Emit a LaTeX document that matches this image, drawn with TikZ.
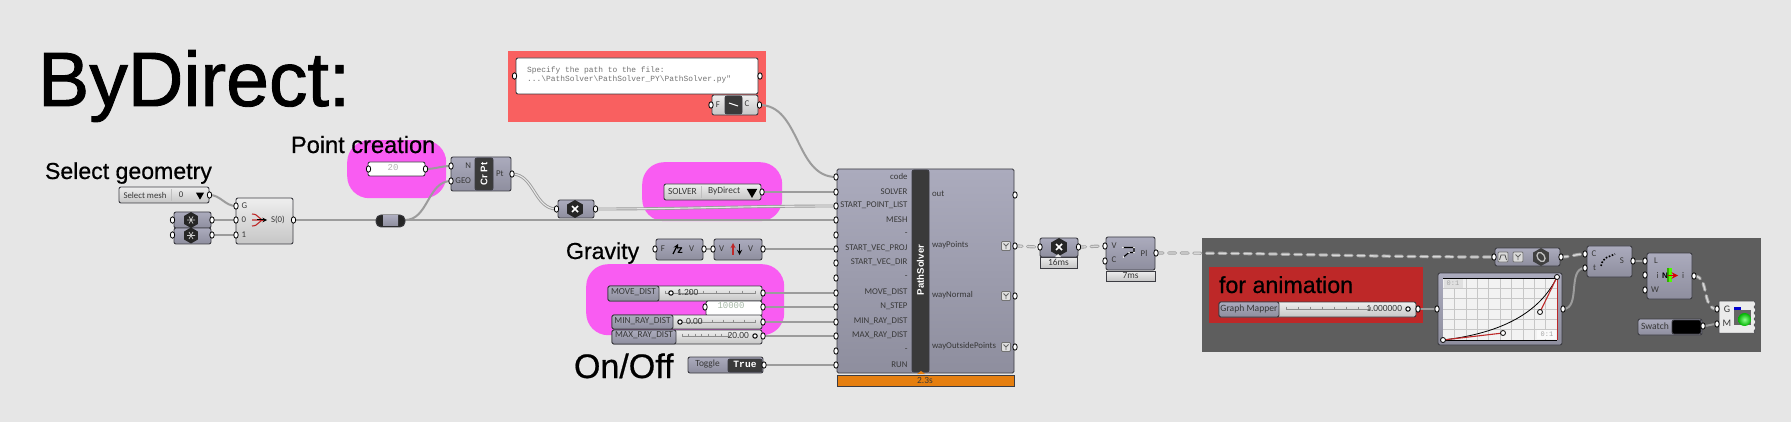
\documentclass[tikz,border=0pt]{standalone}
\usepackage{fontspec}
\setmainfont{Liberation Sans}
\newfontfamily\gh{Carlito}
\newfontfamily\mono{Liberation Mono}
\newfontfamily\heavy{Liberation Sans}[FakeBold=1.2]
\newfontfamily\semi{Liberation Sans}[FakeBold=0.6]
\usetikzlibrary{shapes.geometric,calc}
\definecolor{bg}{HTML}{E6E6E6}
\definecolor{pinkg}{HTML}{F95CF2}
\definecolor{redg}{HTML}{F96060}
\definecolor{crim}{HTML}{BE2828}
\definecolor{darkg}{HTML}{5E5E5E}
\definecolor{edge}{HTML}{3C3C42}
\definecolor{wirec}{HTML}{9C9C9C}
\definecolor{barc}{HTML}{3A3A3A}
\definecolor{orng}{HTML}{E57F10}
\definecolor{gtop}{HTML}{ABABBD}
\definecolor{gbot}{HTML}{8E8E9E}
\definecolor{ltop}{HTML}{EEEEEE}
\definecolor{lbot}{HTML}{C6C6C6}
\definecolor{dashin}{HTML}{D8D8D8}
\definecolor{dashout}{HTML}{A2A2A2}
\definecolor{greenval}{HTML}{A6B8A6}
\pgfdeclarelayer{grp}
\pgfdeclarelayer{wir}
\pgfsetlayers{grp,wir,main}
\tikzset{
  basebox/.style={draw=edge,line width=.9pt,rounded corners=2pt,inner sep=0pt,outer sep=0pt},
  greybox/.style={basebox,top color=gtop,bottom color=gbot},
  lightbox/.style={basebox,top color=ltop,bottom color=lbot},
  whitebox/.style={basebox,fill=white},
  darkbox/.style={basebox,fill=barc},
  grpblob/.style={draw=none,fill=pinkg,rounded corners=22pt,inner sep=0pt},
  grprect/.style={draw=none,inner sep=0pt},
  port/.style={ellipse,draw=black,line width=.8pt,fill=white,minimum width=4.4pt,minimum height=6.4pt,inner sep=0pt,outer sep=0pt},
  wire/.style={draw=wirec,line width=2pt},
  wired/.style={draw=wirec,line width=.9pt,double=bg,double distance=1.1pt},
  wiredash/.style={draw=dashout,line width=3.2pt,line cap=round,dash pattern=on 7pt off 5.6pt,postaction={draw=dashin,line width=1.3pt,dash pattern=on 7pt off 5.6pt}},
  big/.style={inner sep=0pt,outer sep=0pt,text=black},
  small/.style={inner sep=0pt,outer sep=0pt,text=black!78,font=\gh\fontsize{8.8}{10}\selectfont},
  val/.style={small,font=\gh\fontsize{9.4}{10}\selectfont},
  barlab/.style={inner sep=0pt,text=white,rotate=90,font=\bfseries\fontsize{9.6}{10}\selectfont},
  hex/.style={regular polygon,regular polygon sides=6,shape border rotate=30,fill=black!85,draw=none,minimum size=18pt,inner sep=0pt},
  dot/.style={circle,draw=black,line width=1pt,fill=white,minimum size=4.4pt,inner sep=0pt},
  hdl/.style={circle,draw=black,line width=.8pt,fill=white,minimum size=5pt,inner sep=0pt},
  ybox/.style={draw=black!55,line width=.8pt,rounded corners=1pt,fill=black!12,minimum size=9pt,inner sep=0pt},
}
\newcommand\gbox[6]{\pgfmathsetmacro\bw{#5-#3}\pgfmathsetmacro\bh{#6-#4}%
  \node[#1,anchor=north west,minimum width=\bw pt,minimum height=\bh pt] (#2) at (#3,#4) {};}
\newcommand\gport[2]{\node[port] (#1) at (#2) {};}
\newcommand\gticks[3]{\draw[black!45,line width=.5pt] (#1,#3) -- (#2,#3);
  \pgfmathsetmacro\tst{(#2-#1)/7}\foreach \k in {0,...,7}{\draw[black!45,line width=.5pt] ({#1+\k*\tst},#3-2.5) -- ({#1+\k*\tst},#3+.5);}}
\newcommand\xmark[1]{\draw[white,line width=1.7pt] ($(#1)+(-3,-3)$) -- ($(#1)+(3,3)$) ($(#1)+(-3,3)$) -- ($(#1)+(3,-3)$);}
\newcommand\flake[1]{\draw[black!20,line width=.7pt] ($(#1)+(-4,0)$) -- ($(#1)+(4,0)$) ($(#1)+(-2,-3.5)$) -- ($(#1)+(2,3.5)$) ($(#1)+(-2,3.5)$) -- ($(#1)+(2,-3.5)$);}
\begin{document}
\begin{tikzpicture}[x=1pt,y=-1pt]
\useasboundingbox (0,0) rectangle (1791,422);
% groups
\begin{pgfonlayer}{grp}
\fill[bg] (0,0) rectangle (1791,422);
\gbox{grpblob}{gp1}{347}{140}{446}{198}
\gbox{grpblob}{gp2}{642}{162}{782}{221}
\gbox{grpblob}{gp3}{586}{264}{784}{335}
\gbox{grprect,fill=redg}{gr1}{508}{51}{766}{122}
\gbox{grprect,fill=darkg}{gd1}{1202}{238}{1761}{352}
\gbox{grprect,fill=crim}{gr2}{1209}{267}{1423}{323}
\end{pgfonlayer}
% free text
\node[big,anchor=base west,font=\heavy\fontsize{77}{90}\selectfont] (ttl) at (38,106) {ByDirect:};
\node[big,anchor=base west,font=\semi\fontsize{23.6}{26}\selectfont] (tpc) at (291,153) {Point creation};
\node[big,anchor=base west,font=\semi\fontsize{23.1}{26}\selectfont] (tsg) at (45,179) {Select geometry};
\node[big,anchor=base west,font=\semi\fontsize{23.1}{26}\selectfont] (tgr) at (566,259) {Gravity};
\node[big,anchor=base west,font=\semi\fontsize{34}{38}\selectfont] (tof) at (574,378) {On/Off};
\node[big,anchor=base west,font=\semi\fontsize{23.2}{26}\selectfont] (tfa) at (1219,293) {for animation};
% select mesh
\gbox{lightbox}{sm}{119}{187}{209}{203}
\draw[black!25] (171,189) -- (171,201);
\node[small,anchor=west] (smt) at (123.5,195) {Select mesh};
\node[small,anchor=center] (smv) at (181,195) {0};
\node[isosceles triangle,isosceles triangle apex angle=60,shape border rotate=-90,fill=black,inner sep=0pt,minimum size=7pt] (smd) at (200,195) {};
\gport{smo}{209.5,195}
% hex params
\gbox{greybox}{h1}{174}{212}{211}{228}
\gbox{greybox}{h2}{174}{228}{211}{244}
\node[hex,minimum size=16pt] (hx1) at (191,220) {};
\node[hex,minimum size=16pt] (hx2) at (191,235.5) {};
\flake{hx1}\flake{hx2}
\gport{h1i}{172.5,220}\gport{h1o}{212,220}
\gport{h2i}{172.5,235}\gport{h2o}{212,235}
% S component
\gbox{lightbox}{sc}{236}{198}{293}{244}
\gport{scg}{236,206}\gport{sc0}{236,220}\gport{sc1}{236,235}\gport{sco}{293.5,220}
\node[small,anchor=west] at (241.5,206) {G};
\node[small,anchor=west] at (241.5,220) {0};
\node[small,anchor=west] at (241.5,234.5) {1};
\node[small,anchor=west] at (271,220) {S(0)};
\draw[crim,line width=1.1pt] (252,214) .. controls (259,214) and (258,220) .. (265,220) (252,226) .. controls (259,226) and (258,220) .. (265,220) (252,220) -- (262,220);
\draw[black,line width=1pt,-stealth] (257,220) -- (267,220);
% relay
\gbox{basebox,fill=black!85,rounded corners=5pt}{rel}{376}{215}{405}{227}
\fill[top color=gtop,bottom color=gbot] (383,216) rectangle (398,226);
\coordinate (reli) at (376,220);\coordinate (relo) at (405,220);
% slider 20
\gbox{whitebox}{n20}{368}{162}{425}{176}
\node[anchor=center,inner sep=0pt,text=black!30,font=\mono\fontsize{9}{10}\selectfont] at (393,167.5) {20};
\gport{n20i}{368.5,169}\gport{n20o}{425.5,169}
% create points
\gbox{greybox}{cr}{451}{157}{511}{191}
\gbox{darkbox}{crb}{475}{158}{493}{190}
\node[barlab] at (484,174) {Cr Pt};
\node[small,anchor=east] at (471,165.5) {N};
\node[small,anchor=east] at (471,181) {GEO};
\node[small,anchor=west] at (496,174) {Pt};
\gport{crn}{451,166}\gport{crg}{451,181}\gport{cro}{512,174}
% cross param
\gbox{greybox}{cx}{558}{200}{594}{218}
\node[hex] (cxh) at (575,209) {};
\xmark{cxh}
\gport{cxi}{556.5,209}\gport{cxo}{595.5,209}
% panel
\gbox{whitebox}{pan}{516}{58}{758}{94}
\node[anchor=base west,inner sep=0pt,text=black!55,font=\mono\fontsize{7.9}{9}\selectfont] at (527,73) {Specify the path to the file:};
\node[anchor=base west,inner sep=0pt,text=black!55,font=\mono\fontsize{7.9}{9}\selectfont] at (527,82) {...\textbackslash PathSolver\textbackslash PathSolver\_PY\textbackslash PathSolver.py"};
\gport{pani}{514.5,76}\gport{pano}{760,76}
\gbox{lightbox}{fc}{712}{95}{758}{115}
\gbox{darkbox}{fcb}{725}{96}{742}{114}
\draw[white,line width=1pt] (729,103) -- (738,106);
\node[small,anchor=center] at (718,104.5) {F};
\node[small,anchor=center] at (747,104) {C};
\gport{fci}{711,105}\gport{fco}{759.5,105}
% solver value list
\gbox{lightbox}{sv}{664}{184}{761}{200}
\draw[black!25] (701,186) -- (701,198);
\node[small,anchor=west,font=\gh\fontsize{9.4}{10}\selectfont] at (668,191.5) {SOLVER};
\node[small,anchor=west,font=\gh\fontsize{9.4}{10}\selectfont] at (708,191.5) {ByDirect};
\node[isosceles triangle,isosceles triangle apex angle=60,shape border rotate=-90,fill=black,inner sep=0pt,minimum size=9pt] at (752,192) {};
\gport{svo}{762,192}
% gravity components
\gbox{greybox}{fv}{656}{239}{703}{260}
\node[small,anchor=center] at (663,248.5) {F};
\node[small,anchor=center] at (691.5,248.5) {V};
\node[inner sep=0pt,font=\bfseries\fontsize{11}{11}\selectfont] at (680,251) {z};
\draw[black,line width=1.2pt,-stealth] (673,254) -- (678,244);
\gport{fvi}{655,249}\gport{fvo}{704,249}
\gbox{greybox}{vv}{714}{239}{762}{260}
\node[small,anchor=center] at (721.5,248.5) {V};
\node[small,anchor=center] at (750.5,248.5) {V};
\draw[crim,line width=1.3pt,stealth-] (733,243) -- (733,255);
\draw[black,line width=1.3pt,-stealth] (739.5,244) -- (739.5,255);
\gport{vvi}{713,249}\gport{vvo}{763,249}
% sliders
\gbox{lightbox}{s1}{608}{286}{762}{301}
\gbox{greybox}{s1l}{608}{286}{659}{301}
\node[small,anchor=center,font=\gh\fontsize{9.2}{10}\selectfont] at (633.5,292.5) {MOVE\_DIST};
\gticks{665}{755}{293}
\node[dot] at (671,293) {};
\node[val,anchor=west,fill=none] at (677,292.5) {1.200};
\gport{s1o}{763,293}
\gbox{whitebox}{s2}{706}{301}{762}{316}
\node[anchor=center,inner sep=0pt,text=greenval,font=\mono\fontsize{9}{10}\selectfont] at (731,306) {10000};
\gport{s2i}{705,307}\gport{s2o}{763,307}
\gbox{lightbox}{s3}{612}{315}{762}{329}
\gbox{greybox}{s3l}{612}{315}{673}{329}
\node[small,anchor=center,font=\gh\fontsize{9.2}{10}\selectfont] at (642.5,321) {MIN\_RAY\_DIST};
\gticks{680}{755}{322}
\node[dot] at (680,322) {};
\node[val,anchor=west] at (686,321.5) {0.00};
\gport{s3o}{763,322}
\gbox{lightbox}{s4}{612}{330}{762}{344}
\gbox{greybox}{s4l}{612}{330}{676}{344}
\node[small,anchor=center,font=\gh\fontsize{9.2}{10}\selectfont] at (644,335.5) {MAX\_RAY\_DIST};
\gticks{682}{728}{336}
\node[dot] at (755,336) {};
\node[val,anchor=east] at (749,335.5) {20.00};
\gport{s4o}{763,336}
% toggle
\gbox{greybox}{tg}{688}{357}{763}{373}
\gbox{darkbox}{tgb}{728}{359}{762}{372}
\node[small,anchor=center,font=\gh\fontsize{9.4}{10}\selectfont] at (707.5,364.5) {Toggle};
\node[anchor=center,inner sep=0pt,text=white,font=\mono\bfseries\fontsize{9.6}{10}\selectfont] at (745,364.5) {True};
\gport{tgo}{764,365}
% PathSolver
\gbox{greybox,rounded corners=1.5pt}{ps}{837}{169}{1014}{373}
\gbox{basebox,draw=edge,fill=orng,rounded corners=0pt}{psb}{837}{375}{1014}{386}
\node[small,anchor=center,font=\gh\fontsize{9.4}{10}\selectfont] at (925,380.5) {2.3s};
\gbox{darkbox}{psd}{912}{170}{929}{372}
\node[barlab] at (920.5,270) {PathSolver};
\fill[orng] (921,371) -- (925,374) -- (917,374) -- cycle;
\foreach \nm/\yy/\tx in {a/177/code,b/192/SOLVER,c/206/START\_POINT\_LIST,d/220/MESH,e/235/-,f/249/START\_VEC\_PROJ,g/263/START\_VEC\_DIR,h/278/-,i/293/MOVE\_DIST,j/307/N\_STEP,k/322/MIN\_RAY\_DIST,l/336/MAX\_RAY\_DIST,m/351/-,n/365/RUN}{
  \node[port] (in\nm) at (836,\yy) {};
  \node[small,anchor=east] at (907.5,\yy-.5) {\tx};
}
\foreach \nm/\yy/\tx in {a/195/out,b/246/wayPoints,c/296/wayNormal,d/347/wayOutsidePoints}{
  \node[port] (ou\nm) at (1015,\yy) {};
  \node[small,anchor=west] at (932,\yy-1) {\tx};
}
\foreach \yy in {246,296,347}{
  \node[ybox] at (1006,\yy) {};
  \draw[black!60,line width=.8pt] (1003.5,\yy-2.5) -- (1006,\yy) -- (1008.5,\yy-2.5) (1006,\yy) -- (1006,\yy+3);
}
% cross 16ms
\gbox{greybox}{cy}{1040}{238}{1078}{257}
\node[hex] (cyh) at (1059,247) {};
\xmark{cyh}
\gbox{lightbox,rounded corners=0pt}{cyt}{1040}{257}{1077}{268}
\node[small,anchor=center,font=\gh\fontsize{9.4}{10}\selectfont] at (1058.5,262.5) {16ms};
\fill[bg!80!white] (1058,254) -- (1061,257) -- (1055,257) -- cycle;
\gport{cyi}{1040,247}\gport{cyo}{1078.5,247}
% polyline
\gbox{greybox}{pl}{1106}{237}{1155}{270}
\gbox{lightbox,rounded corners=0pt}{plt}{1106}{271}{1155}{281}
\node[small,anchor=center,font=\gh\fontsize{9.4}{10}\selectfont] at (1130.5,275.5) {7ms};
\node[small,anchor=center] at (1114,245.5) {V};
\node[small,anchor=center] at (1114,260) {C};
\node[small,anchor=center] at (1144,253) {Pl};
\draw[black,line width=1.1pt] (1123.5,257) -- (1129,252.5) -- (1133.5,252.5) (1123,247.5) -- (1134,247.5) -- (1134,252.5);
\foreach \q in {(1123,247.5),(1134,247.5),(1134,252.5),(1129,252.5),(1123.5,257)}{\fill[white] \q circle[radius=.9];}
\gport{plv}{1105,246}\gport{plc}{1105,261}\gport{plo}{1156,253}
% hose component
\gbox{greybox}{hs}{1495}{248}{1560}{266}
\node[ybox,minimum size=10pt,fill=black!15] at (1503,257) {};
\node[ybox,minimum size=10pt,fill=black!15] at (1518,257) {};
\draw[black!70,line width=.8pt] (1499.5,260) -- (1501,255) -- (1505,255) -- (1506.5,260);
\draw[black!60,line width=.8pt] (1515.5,254.5) -- (1518,257) -- (1520.5,254.5) (1518,257) -- (1518,260);
\node[hex,minimum size=18pt,fill=black!75] (hsh) at (1541,257) {};
\draw[black!25,line width=1.3pt,rotate around={35:(1541,257)}] (1541,257) ellipse[x radius=3.5,y radius=5];
\gport{hsi}{1494,257}\gport{hso}{1561,257}
% slider graph mapper
\gbox{lightbox}{gm}{1219}{302}{1416}{317}
\gbox{greybox}{gml}{1219}{302}{1279}{317}
\node[small,anchor=center,font=\gh\fontsize{9.6}{10}\selectfont] at (1249,308.5) {Graph Mapper};
\gticks{1286}{1370}{309}
\node[val,anchor=east] at (1402,308.5) {1.000000};
\node[dot] at (1408,309) {};
\gport{gmo}{1418,309}
% graph
\gbox{greybox}{gr}{1438}{273}{1562}{345}
\fill[black!5] (1443,278) rectangle (1557,340);
\foreach \k in {1,...,9}{\draw[black!22,line width=.6pt] ({1443+\k*11.4},278) -- ({1443+\k*11.4},340);}
\foreach \k in {1,...,5}{\draw[black!22,line width=.6pt] (1443,{278+\k*10.33}) -- (1557,{278+\k*10.33});}
\fill[black!12] (1444,279) rectangle (1463,288);
\fill[black!2] (1537,330) rectangle (1556,339);
\node[anchor=center,inner sep=0pt,text=black!35,font=\mono\fontsize{7}{8}\selectfont] at (1453,283.5) {0:1};
\node[anchor=center,inner sep=0pt,text=black!35,font=\mono\fontsize{7}{8}\selectfont] at (1547,334.5) {0:1};
\draw[black,line width=1pt] (1443,340) -- (1557,340) (1443,278) -- (1557,278);
\draw[crim,line width=1pt] (1557,278) -- (1557,340);
\draw[black,line width=.8pt] (1443,340) .. controls (1503,333) and (1540,312) .. (1557,277);
\draw[crim,line width=1.1pt] (1443,340) -- (1503,333) (1557,277) -- (1540,312);
\node[hdl] at (1443,340) {};\node[hdl] at (1557,277) {};\node[hdl] at (1503,333) {};\node[hdl] at (1540,312) {};
\gport{gri}{1437,309}\gport{gro}{1563,309}
% curve eval
\gbox{greybox}{ce}{1587}{246}{1632}{277}
\node[small,anchor=center] at (1594,253.5) {C};
\node[small,anchor=center] at (1594.5,268) {t};
\node[small,anchor=center] at (1622,260.5) {S};
\draw[black,line width=1.6pt,dash pattern=on 1.6pt off 1.6pt] (1601,266) .. controls (1603,256) and (1610,257) .. (1615,254);
\gport{cec}{1585,254}\gport{cet}{1585,268}\gport{ceo}{1633,261}
% LiW
\gbox{greybox}{lw}{1647}{253}{1692}{299}
\node[small,anchor=center] at (1656,260.5) {L};
\node[small,anchor=center] at (1657.5,275) {i};
\node[small,anchor=center] at (1655,289.5) {W};
\node[small,anchor=center] at (1683,275) {i};
\fill[green!60!black!80!yellow] (1667,268) rectangle (1672,282);
\fill[green!70!yellow] (1669,268) rectangle (1672,282);
\node[inner sep=0pt,font=\bfseries\fontsize{8}{8}\selectfont] at (1665,275.5) {N};
\draw[red!85!black,line width=1.8pt,-stealth] (1668,275.5) -- (1678,275.5);
\gport{lwl}{1645,261}\gport{lwi}{1645,275}\gport{lww}{1645,290}\gport{lwo}{1694,276}
% preview
\draw[draw=edge,line width=.5pt,fill=black!8] (1719,301) -- (1754,301) -- (1756,304) -- (1754,307) -- (1756,310) -- (1754,313) -- (1756,316) -- (1754,319) -- (1756,322) -- (1754,325) -- (1756,328) -- (1754,331) -- (1755,333) -- (1719,333) -- cycle;
\fill[black!60] (1734,307) rectangle (1751,325);
\fill[white!85!gray] (1734,307) rectangle (1751,310);
\fill[blue!80!black] (1734,307) rectangle (1741,309.5);
\shade[inner color=green!45!white,outer color=green!70!black] (1744.5,319.5) circle[radius=6.5];
\node[small,anchor=center,font=\gh\fontsize{10}{10}\selectfont] at (1727,309) {G};
\node[small,anchor=center,font=\gh\fontsize{10}{10}\selectfont] at (1727,323.5) {M};
\gport{pvg}{1717,309}\gport{pvm}{1717,324}
% swatch
\gbox{greybox}{sw}{1638}{319}{1702}{335}
\gbox{darkbox,fill=black}{swb}{1672}{320}{1701}{334}
\node[small,anchor=center,font=\gh\fontsize{9.6}{10}\selectfont] at (1655,326.5) {Swatch};
\gport{swo}{1703,326}
% wires
\begin{pgfonlayer}{wir}
\draw[wire] (smo.center) to[out=0,in=180] (scg.center);
\draw[wire] (h1o.center) -- (sc0.center);
\draw[wire] (h2o.center) -- (sc1.center);
\draw[wire] (sco.center) -- (reli);
\draw[wire] (relo) to[out=0,in=180] (crg.center);
\draw[wire] (relo) -- (ind.center);
\draw[wire] (n20o.center) to[out=0,in=180] (crn.center);
\draw[wired] (cro.center) to[out=0,in=180] (cxi.center);
\draw[wired] (cxo.center) to[out=0,in=180] (inc.center);
\draw[wire] (fco.center) to[out=0,in=180] (ina.center);
\draw[wire] (svo.center) -- (inb.center);
\draw[wire] (vvo.center) -- (inf.center);
\draw[wire] (fvo.center) -- (vvi.center);
\draw[wire] (s1o.center) -- (ini.center);
\draw[wire] (s2o.center) -- (inj.center);
\draw[wire] (s3o.center) -- (ink.center);
\draw[wire] (s4o.center) -- (inl.center);
\draw[wire] (tgo.center) -- (inn.center);
\draw[wiredash] (oub.center) to[out=0,in=180] (cyi.center);
\draw[wiredash] (cyo.center) to[out=0,in=180] (plv.center);
\draw[wiredash] (plo.center) to[out=0,in=180] (hsi.center);
\draw[wiredash] (hso.center) to[out=0,in=180] (cec.center);
\draw[wire] (gmo.center) -- (gri.center);
\draw[wire] (gro.center) to[out=0,in=180] (cet.center);
\draw[wire] (ceo.center) -- (lwl.center);
\draw[wiredash] (lwo.center) to[out=0,in=180] (pvg.center);
\draw[wire] (swo.center) to[out=0,in=180] (pvm.center);
\end{pgfonlayer}
\end{tikzpicture}
\end{document}
